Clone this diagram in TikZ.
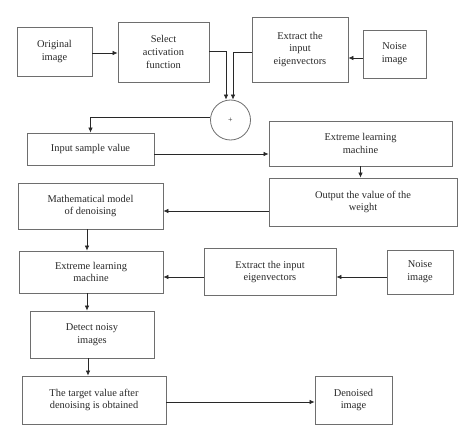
\documentclass[tikz,border=0pt]{standalone}
\usepackage{fontspec}
\setmainfont{Liberation Serif}
\usetikzlibrary{positioning}
\usetikzlibrary{arrows.meta,shapes}
\definecolor{boxgray}{RGB}{110,110,110}
\definecolor{txtgray}{RGB}{40,40,40}

\begin{document}
\begin{tikzpicture}
  [x=1pt,y=-1pt,>={Latex[length=5pt,width=4.5pt]},
  box/.style={rectangle,draw=boxgray,line width=0.8pt,inner sep=0pt,align=center,text=txtgray,
    font=\fontsize{10.4}{12.8}\selectfont},
  sumnode/.style={circle,draw=boxgray,line width=0.8pt,inner sep=0pt,minimum size=40pt,text=txtgray,font=\footnotesize},
  arr/.style={->,draw=txtgray,line width=0.7pt}]
  \useasboundingbox (0,0) rectangle (474,441);

  % first row
  \node[box,minimum width=75pt,minimum height=49pt] (orig) at (54.5,51.5) {Original\\image};
  \node[box,minimum width=91pt,minimum height=60pt] (sel) at (163.5,52) {Select\\activation\\function};
  \node[box,minimum width=96pt,minimum height=65pt] (ext1) at (300,49.5) {Extract the\\input\\eigenvectors};
  \node[box,minimum width=63pt,minimum height=48pt] (noise1) at (394.5,54) {Noise\\image};
  \node[sumnode] (sum) at (230.5,120) {+};

  % middle
  \node[box,minimum width=127pt,minimum height=32pt] (inp) at (90.5,149) {Input sample value};
  \node[box,minimum width=183pt,minimum height=45pt] (elm1) at (360.5,143.5) {Extreme learning\\machine};
  \node[box,minimum width=188pt,minimum height=48pt] (out) at (363,202) {Output the value of the\\weight};
  \node[box,minimum width=145pt,minimum height=46pt] (mdl) at (90.5,206) {Mathematical model\\of denoising};
  \node[box,minimum width=144pt,minimum height=42pt] (elm2) at (91,272) {Extreme learning\\machine};
  \node[box,minimum width=132pt,minimum height=47pt] (ext2) at (270,272) {Extract the input\\eigenvectors};
  \node[box,minimum width=66pt,minimum height=44pt] (noise2) at (420,272) {Noise\\image};

  % bottom
  \node[box,minimum width=124pt,minimum height=47pt] (det) at (92,334.5) {Detect noisy\\images};
  \node[box,minimum width=144pt,minimum height=48pt] (tgt) at (94,400) {The target value after\\denoising is obtained};
  \node[box,minimum width=77pt,minimum height=48pt] (den) at (353.5,400) {Denoised\\image};

  \draw[arr] ([yshift=-1.5pt]orig.east) -- ([yshift=-1pt]sel.west);
  \draw[arr] ([yshift=-4pt]noise1.west) -- ([yshift=-8.5pt]ext1.east);
  \draw[arr] ([yshift=1pt]sel.east) -| ([xshift=-4.5pt]sum.north);
  \draw[arr] ([yshift=-2.5pt]ext1.west) -| ([xshift=2.5pt]sum.north);
  \draw[arr] ([yshift=3pt]sum.west) -| (inp.north);
  \draw[arr] ([yshift=-5pt]inp.east) -- ([yshift=-10.5pt]elm1.west);
  \draw[arr] (elm1.south) -- (elm1.south |- out.north);
  \draw[arr] ([yshift=-9pt]out.west) -- ([yshift=-5pt]mdl.east);
  \draw[arr] ([xshift=-3.5pt]mdl.south) -- ([xshift=-4pt]elm2.north);
  \draw[arr] ([yshift=-5pt]noise2.west) -- ([yshift=-5pt]ext2.east);
  \draw[arr] ([yshift=-5pt]ext2.west) -- ([yshift=-5pt]elm2.east);
  \draw[arr] ([xshift=-4pt]elm2.south) -- ([xshift=-5pt]det.north);
  \draw[arr] ([xshift=-4pt]det.south) -- ([xshift=-6pt]tgt.north);
  \draw[arr] ([yshift=-2pt]tgt.east) -- ([yshift=-2pt]den.west);
\end{tikzpicture}
\end{document}
